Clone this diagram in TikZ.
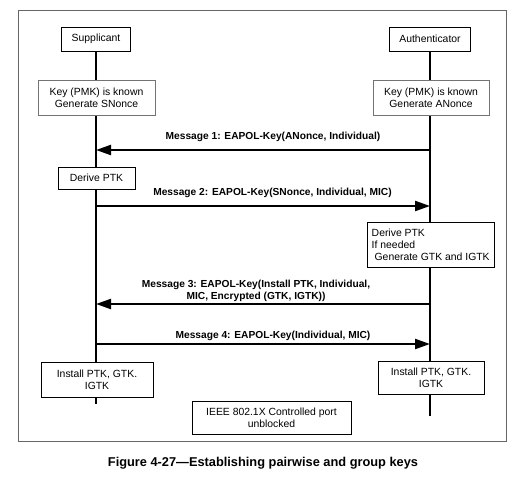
\documentclass[tikz,border=0pt]{standalone}
\usepackage{fontspec}
\setmainfont{Liberation Sans}
\usetikzlibrary{arrows.meta}

\begin{document}
\begin{tikzpicture}[x=1pt,y=-1pt,
  every node/.style={font=\fontsize{10.4}{12}\selectfont},
  box/.style={draw,fill=white,inner sep=0pt,align=center},
  keybox/.style={box,draw=black!55},
  lifeline/.style={line width=2.6pt},
  msg/.style={line width=2.2pt,-{Triangle[length=15pt,width=10pt]}},
  msglbl/.style={font=\fontsize{10.2}{12}\selectfont\bfseries,align=center}]
\useasboundingbox (0,0) rectangle (525,477);
\draw[black!60] (18,10) rectangle (506,441);
% headers and lifelines
\node[box,minimum width=69pt,minimum height=24pt] (supp) at (96,39) {Supplicant};
\node[box,minimum width=81pt,minimum height=24pt] (auth) at (430,39) {Authenticator};
\coordinate (suppEnd) at (96,404);
\coordinate (authEnd) at (430,416);
\draw[lifeline] (supp.south) -- (suppEnd);
\draw[lifeline] (auth.south) -- (authEnd);
% state boxes
\node[keybox,minimum width=117pt,minimum height=35pt] (suppKey) at (96.5,97.5) {Key (PMK) is known\\Generate SNonce};
\node[keybox,minimum width=116pt,minimum height=35pt] (authKey) at (431,97.5) {Key (PMK) is known\\Generate ANonce};
\node[box,minimum width=77pt,minimum height=22pt] (suppPtk) at (96.5,178) {Derive PTK};
\node[box,minimum width=127pt,minimum height=45pt,align=left,inner xsep=3pt,anchor=west] (authPtk) at (367,244.5) {Derive PTK\\If needed\\\ Generate GTK and IGTK};
\node[box,minimum width=112pt,minimum height=35pt] (suppInst) at (97,379.5) {Install PTK, GTK.\\IGTK};
\node[box,minimum width=106pt,minimum height=33pt] (authInst) at (431,377.5) {Install PTK, GTK.\\IGTK};
\node[box,minimum width=159pt,minimum height=33pt] (port) at (271.5,417.5) {IEEE 802.1X Controlled port\\unblocked};
% messages
\coordinate (s1) at (96,150); \coordinate (a1) at (430,150);
\coordinate (s2) at (96,206); \coordinate (a2) at (430,206);
\coordinate (s3) at (96,304); \coordinate (a3) at (430,304);
\coordinate (s4) at (96,344); \coordinate (a4) at (430,344);
\draw[msg] (a1) -- (s1);
\draw[msg] (s2) -- (a2);
\draw[msg] (a3) -- (s3);
\draw[msg] (s4) -- (a4);
\node[msglbl] (m1) at (273,137) {Message 1: EAPOL-Key(ANonce, Individual)};
\node[msglbl] (m2) at (272.5,193) {Message 2: EAPOL-Key(SNonce, Individual, MIC)};
\node[msglbl] (m3) at (256,291) {Message 3: EAPOL-Key(Install PTK, Individual,\\MIC, Encrypted (GTK, IGTK))};
\node[msglbl] (m4) at (273,336) {Message 4: EAPOL-Key(Individual, MIC)};
% caption
\node[font=\fontsize{12.8}{15}\selectfont\bfseries] (cap) at (263,463) {Figure 4-27---Establishing pairwise and group keys};
\end{tikzpicture}
\end{document}
